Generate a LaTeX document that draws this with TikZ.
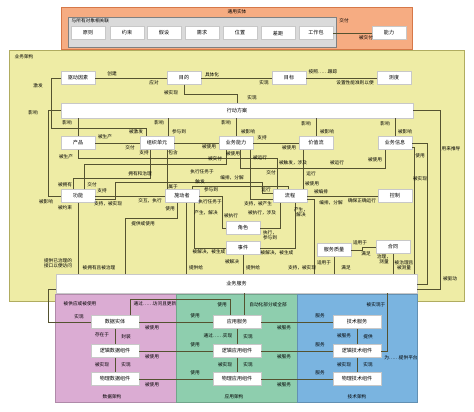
\documentclass[tikz,border=0pt]{standalone}
\usepackage{fontspec}
\setmainfont{Noto Sans CJK SC}
\usetikzlibrary{calc}

\definecolor{orangebg}{RGB}{246,172,130}
\definecolor{orangeln}{RGB}{214,120,72}
\definecolor{graybg}{RGB}{218,218,218}
\definecolor{yellowbg}{RGB}{238,236,165}
\definecolor{yellowln}{RGB}{176,172,96}
\definecolor{pinkbg}{RGB}{219,172,211}
\definecolor{greenbg}{RGB}{142,206,174}
\definecolor{bluebg}{RGB}{122,180,224}
\definecolor{linecol}{RGB}{84,82,48}
\definecolor{boxln}{RGB}{200,200,200}

\tikzset{
  ent/.style={draw=boxln, fill=white, minimum width=25.5pt, minimum height=9.5pt,
    inner sep=0.5pt, font=\fontsize{3.8}{4.2}\selectfont},
  wideent/.style={ent, minimum width=36pt},
  lbl/.style={inner sep=0.3pt, font=\fontsize{3.5}{4}\selectfont, align=center},
  rel/.style={draw=linecol, line width=0.45pt},
}

\begin{document}
\begin{tikzpicture}[x=0.75pt,y=0.75pt,yscale=-1,xscale=1]
\useasboundingbox (0,0) rectangle (474,411);

%Shape: Rectangle (generic entities)
\draw[orangeln, fill=orangebg] (61,7) rectangle (412,49);
\draw[gray, fill=graybg] (68,17) rectangle (336,47);
%Shape: Rectangle (business architecture)
\draw[yellowln, fill=yellowbg] (9,50) rectangle (464,301);
%Shape: Rectangle (data / application / technology)
\draw[pinkbg!80!black, fill=pinkbg] (55,294) rectangle (176,402);
\draw[greenbg!80!black, fill=greenbg] (176,294) rectangle (297,402);
\draw[bluebg!80!black, fill=bluebg] (297,294) rectangle (417,402);

% Text Node
\node[lbl] (ttlgen) at (237,12) {通用实体};
\node[lbl, anchor=west] (ttlall) at (71,21) {与所有对象相关联};
\node[lbl, anchor=west] (ttlbiz) at (14,57) {业务架构};
\node[lbl] (ttldata) at (112,397) {数据架构};
\node[lbl] (ttlapp) at (234,397) {应用架构};
\node[lbl] (ttltech) at (357,397) {技术架构};

% generic entities
\node[ent] (princ) at (88,33) {原则};
\node[ent] (constr) at (127,33) {约束};
\node[ent] (assum) at (164,33) {假设};
\node[ent] (req) at (202,33) {需求};
\node[ent] (loc) at (240,33) {位置};
\node[ent] (gap) at (278,33) {差距};
\node[ent] (wp) at (316,33) {工作包};
\node[ent] (cap) at (389,33) {能力};

% business architecture
\node[ent] (drv) at (78,78) {驱动因素};
\node[ent] (goal) at (184,78) {目的};
\node[ent] (obj) at (289,78) {目标};
\node[ent] (meas) at (394,78) {测度};
\node[ent, minimum width=264pt, minimum height=11pt] (coa) at (237,110.5) {行动方案};

\node[ent] (prod) at (78,143) {产品};
\node[ent] (org) at (157,143) {组织单元};
\node[ent] (bcap) at (236,143) {业务能力};
\node[ent] (vs) at (316,143) {价值流};
\node[ent] (binfo) at (395,143) {业务信息};

\node[ent] (func) at (78,196) {功能};
\node[ent] (actor) at (182,196) {施动者};
\node[ent] (proc) at (290,196) {流程};
\node[ent] (ctrl) at (395,196) {控制};
\node[ent] (role) at (243,228) {角色};
\node[ent] (event) at (243,248) {事件};
\node[ent] (qos) at (334,250) {服务质量};
\node[ent] (contr) at (393,247) {合同};

\node[ent, minimum width=270.75pt, minimum height=14pt] (bsvc) at (236.5,283.5) {业务服务};

% data / application / technology
\node[wideent] (dent) at (115,322) {数据实体};
\node[wideent] (ldc) at (115,351) {逻辑数据组件};
\node[wideent] (pdc) at (115,379) {物理数据组件};
\node[wideent] (asvc) at (237,322) {应用服务};
\node[wideent] (lac) at (237,351) {逻辑应用组件};
\node[wideent] (pac) at (237,379) {物理应用组件};
\node[wideent] (tsvc) at (357,322) {技术服务};
\node[wideent] (ltc) at (357,351) {逻辑技术组件};
\node[wideent] (ptc) at (357,379) {物理技术组件};

%Straight Lines
\draw[rel] (wp) -- (cap);
\draw[rel] (drv) -- (goal);
\draw[rel] (goal) -- (obj);
\draw[rel] (obj) -- (meas);
\draw[rel] (goal.south) -- ++(0,10) -| (coa.north);
\draw[rel] (drv.west) -- ++(-9,0) |- (146,128) -- (org.north -| 146,0);
\draw[rel] (coa.west) -- ++(-12,0) |- (func.west);
\draw[rel] (coa.east) -- ++(27,0) |- (bsvc.east |- 0,289);
\draw[rel] (coa.south -| prod.north) -- (prod.north);
\draw[rel] (coa.south -| 168,0) -- (org.north -| 168,0);
\draw[rel] (coa.south -| bcap.north) -- (bcap.north);
\draw[rel] (coa.south -| vs.north) -- (vs.north);
\draw[rel] (coa.south -| binfo.north) -- (binfo.north);

\draw[rel] (prod) -- (org);
\draw[rel] (org) -- (bcap);
\draw[rel] (bcap) -- (vs);
\draw[rel] (org.south -| 150,0) |- (73,178) -- (func.north -| 73,0);
\draw[rel] (func.north -| 84,0) |- (226,164) -- (bcap.south -| 226,0);
\draw[rel] (prod.south) |- (277,158) -- (proc.north -| 277,0);
\draw[rel] (org.south -| 167,0) -- (actor.north -| 167,0);
\draw[rel] (bcap.south -| 240,0) |- (385,168) -- (binfo.south -| 385,0);
\draw[rel] (vs.south -| 303,0) -- (proc.north -| 303,0);
\draw[rel] (bcap.south -| 250,0) |- (proc.west |- 0,199);
\draw[rel] (proc.west |- 0,193) -- (262,193) |- (115,182) |- (func.east |- 0,199);
\draw[rel] (func) -- (actor);
\draw[rel] (actor.north -| 192,0) |- (288,186) -- (proc.north -| 288,0);
\draw[rel] (actor.east) -- ++(23,0) |- (role.west);
\draw[rel] (actor.south -| 194,0) |- (event.west);
\draw[rel] (actor.south -| 186,0) -- (bsvc.north -| 186,0);
\draw[rel] (actor.south -| 177,0) |- (125,218) -- (bsvc.north -| 125,0);
\draw[rel] (proc.south -| 295,0) |- (event.east);
\draw[rel] (proc.south -| 280,0) |- (role.east);
\draw[rel] (proc.east |- 0,199) -- (314,199) -- (bsvc.north -| 314,0);
\draw[rel] (proc) -- (ctrl);
\draw[rel] (event.south) -- (bsvc.north -| event.south);
\draw[rel] (qos.south) -- (bsvc.north -| qos.south);
\draw[rel] (qos.east) -- ++(11,0) |- (contr.west);
\draw[rel] (contr.south) -- (bsvc.north -| contr.south);
\draw[rel] (func.south) -- (bsvc.north -| func.south);
\draw[rel] (binfo.east |- 0,147) -- (414,147) -- (bsvc.north -| 414,0);
\draw[rel] (binfo.east) -- (427,143) |- (bsvc.east |- 0,284);

\draw[rel] (bsvc.west |- 0,289) -- (48,289) |- (dent.west);
\draw[rel] (dent.north -| 130,0) |- (230,299) -- (asvc.north -| 230,0);
\draw[rel] (bsvc.south -| 244,0) -- (asvc.north -| 244,0);
\draw[rel] (bsvc.south -| 387,0) |- (ltc.east);

\draw[rel] (dent) -- (asvc); \draw[rel] (asvc) -- (tsvc);
\draw[rel] (ldc) -- (lac); \draw[rel] (lac) -- (ltc);
\draw[rel] (pdc) -- (pac); \draw[rel] (pac) -- (ptc);
\draw[rel] (dent) -- (ldc); \draw[rel] (ldc) -- (pdc);
\draw[rel] (asvc) -- (lac); \draw[rel] (lac) -- (pac);
\draw[rel] (tsvc) -- (ltc); \draw[rel] (ltc) -- (ptc);

% Text Node (relations)
\node[lbl] (r1) at (344,21) {交付};
\node[lbl] (r2) at (366,38) {被交付};
\node[lbl] (r3) at (112,74) {创建};
\node[lbl] (r4) at (154,83) {应对};
\node[lbl] (r5) at (212,75) {具体化};
\node[lbl] (r6) at (264,83) {实现};
\node[lbl] (r7) at (323,72) {按照……跟踪};
\node[lbl] (r8) at (355,83) {设置性能准则以便};
\node[lbl] (r9) at (171,93) {被实现};
\node[lbl] (r10) at (252,98) {实现};
\node[lbl] (r11) at (38,86) {激发};
\node[lbl] (r12) at (33,113) {影响};
\node[lbl] (r13) at (67,123) {影响};
\node[lbl] (r14) at (105,137) {被生产};
\node[lbl] (r15) at (136,132) {被激发};
\node[lbl] (r16) at (159,123) {影响};
\node[lbl] (r17) at (179,132) {参与到};
\node[lbl] (r18) at (226,123) {影响};
\node[lbl] (r19) at (248,132) {被影响};
\node[lbl] (r20) at (262,138) {支持};
\node[lbl] (r21) at (306,124) {影响};
\node[lbl] (r22) at (327,132) {被影响};
\node[lbl] (r23) at (385,124) {影响};
\node[lbl] (r24) at (405,132) {被影响};
\node[lbl] (r25) at (66,157) {被生产};
\node[lbl] (r26) at (130,148) {交付};
\node[lbl] (r27) at (144,153) {支持};
\node[lbl] (r28) at (173,153) {包含};
\node[lbl] (r29) at (209,147) {被使用};
\node[lbl] (r30) at (215,159) {被交付};
\node[lbl] (r31) at (289,148) {被使用};
\node[lbl] (r32) at (233,154) {被使用};
\node[lbl] (r33) at (260,158) {被运行};
\node[lbl] (r34) at (293,163) {被触发，涉及};
\node[lbl] (r35) at (337,163) {被运行};
\node[lbl] (r36) at (375,160) {被使用};
\node[lbl] (r37) at (420,156) {使用};
\node[lbl] (r38) at (451,149) {用来推导};
\node[lbl] (r39) at (420,179) {被实现};
\node[lbl] (r40) at (140,174) {拥有和治理};
\node[lbl] (r41) at (202,172) {执行任务于};
\node[lbl] (r42) at (271,173) {交付};
\node[lbl] (r43) at (311,174) {运行};
\node[lbl] (r44) at (65,185) {被拥有};
\node[lbl] (r45) at (92,185) {交付};
\node[lbl] (r46) at (102,191) {支持};
\node[lbl] (r47) at (173,187) {属于};
\node[lbl] (r48) at (200,182) {触发};
\node[lbl] (r49) at (232,178) {编排，分解};
\node[lbl] (r50) at (266,190) {运行};
\node[lbl] (r51) at (211,190) {参与到};
\node[lbl] (r52) at (312,184) {被使用};
\node[lbl] (r53) at (321,192) {被编排};
\node[lbl] (r54) at (46,202) {被影响};
\node[lbl] (r55) at (65,208) {被约束};
\node[lbl] (r56) at (108,204) {支持，被实现};
\node[lbl] (r57) at (150,201) {交互，执行};
\node[lbl] (r58) at (210,202) {执行任务于};
\node[lbl] (r59) at (258,204) {支持，被产生};
\node[lbl] (r60) at (331,203) {编排，分解};
\node[lbl] (r61) at (362,201) {确保正确运行};
\node[lbl] (r62) at (170,209) {使用};
\node[lbl] (r63) at (206,213) {产生，解决};
\node[lbl] (r64) at (231,216) {被执行};
\node[lbl] (r65) at (262,213) {被执行，涉及};
\node[lbl] (r66) at (301,212) {产生，\\解决};
\node[lbl] (r67) at (143,224) {提供或使用};
\node[lbl] (r68) at (270,235) {执行，\\参与到};
\node[lbl] (r69) at (209,252) {被解决，被生成};
\node[lbl] (r70) at (277,253) {被解决，被生成};
\node[lbl] (r71) at (232,262) {被解决};
\node[lbl] (r72) at (360,243) {适用于};
\node[lbl] (r73) at (366,254) {满足};
\node[lbl] (r74) at (384,259) {治理，\\测量};
\node[lbl] (r75) at (404,265) {被治理且\\被测量};
\node[lbl] (r76) at (58,263) {提供已治理的\\接口以便访问};
\node[lbl] (r77) at (99,268) {被拥有且被治理};
\node[lbl] (r78) at (196,268) {提供给};
\node[lbl] (r79) at (253,268) {提供给};
\node[lbl] (r80) at (302,268) {支持，被实现};
\node[lbl] (r81) at (324,263) {适用于};
\node[lbl] (r82) at (346,268) {满足};
\node[lbl] (r83) at (450,279) {被驱动};
\node[lbl] (r84) at (80,304) {被供应或被使用};
\node[lbl] (r85) at (79,317) {实现};
\node[lbl] (r86) at (155,304) {通过……访问且更新};
\node[lbl] (r87) at (222,305) {使用};
\node[lbl] (r88) at (268,305) {自动化部分或全部};
\node[lbl] (r89) at (376,305) {被实现于};
\node[lbl] (r90) at (152,328) {被使用};
\node[lbl] (r91) at (195,316) {使用};
\node[lbl] (r92) at (284,328) {被服务};
\node[lbl] (r93) at (320,316) {服务};
\node[lbl] (r94) at (102,335) {存在于};
\node[lbl] (r95) at (126,337) {封装};
\node[lbl] (r96) at (218,336) {通过……实现};
\node[lbl] (r97) at (248,337) {实现};
\node[lbl] (r98) at (344,336) {被服务};
\node[lbl] (r99) at (368,337) {提供};
\node[lbl] (r100) at (152,357) {被使用};
\node[lbl] (r101) at (195,345) {使用};
\node[lbl] (r102) at (284,357) {被服务};
\node[lbl] (r103) at (320,345) {服务};
\node[lbl] (r104) at (401,358) {为……提供平台};
\node[lbl] (r105) at (102,365) {被实现};
\node[lbl] (r106) at (126,365) {实现};
\node[lbl] (r107) at (225,365) {被实现};
\node[lbl] (r108) at (248,365) {实现};
\node[lbl] (r109) at (344,365) {被实现};
\node[lbl] (r110) at (368,365) {实现};
\node[lbl] (r111) at (152,385) {被使用};
\node[lbl] (r112) at (195,373) {使用};
\node[lbl] (r113) at (284,385) {被服务};
\node[lbl] (r114) at (320,373) {服务};

\end{tikzpicture}
\end{document}
